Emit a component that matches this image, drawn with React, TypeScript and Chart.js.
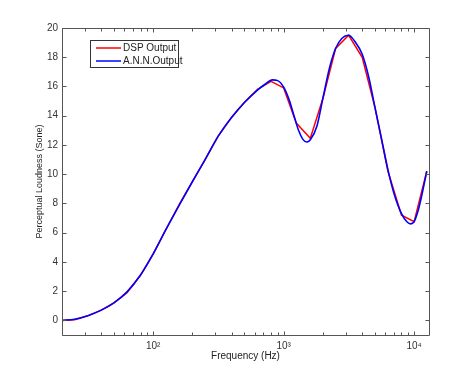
import React, { useEffect, useRef } from "react";
import { Chart, registerables } from "chart.js";

Chart.register(...registerables);

// ANN output (smooth)
const annFreq = [20, 25, 32, 40, 50, 63, 80, 100, 125, 160, 200, 250, 315, 400, 500, 630, 720, 820, 900, 1000, 1100, 1200, 1300, 1400, 1500, 1600, 1800, 2000, 2250, 2500, 2800, 3150, 3500, 4000, 4500, 5000, 5600, 6300, 7000, 8000, 8800, 9400, 10000, 10800, 11600, 12500];
const annValues = [0, 0.08, 0.34, 0.7, 1.2, 1.95, 3.1, 4.55, 6.2, 7.95, 9.5, 11.0, 12.6, 13.9, 14.9, 15.75, 16.15, 16.45, 16.4, 15.95, 15.1, 14.0, 13.0, 12.4, 12.2, 12.35, 13.3, 15.2, 17.3, 18.6, 19.3, 19.5, 19.1, 18.2, 16.6, 14.6, 12.5, 10.3, 8.7, 7.3, 6.75, 6.6, 6.75, 7.6, 8.8, 10.2];

// DSP output (piecewise)
const dspFreq = [20, 25, 32, 40, 50, 63, 80, 100, 125, 160, 200, 250, 315, 400, 500, 630, 800, 1000, 1250, 1600, 2000, 2500, 3150, 4000, 5000, 6300, 8000, 10000, 12500];
const dspValues = [0, 0.05, 0.34, 0.7, 1.2, 1.9, 3.1, 4.55, 6.2, 8.0, 9.5, 11.0, 12.6, 13.9, 14.9, 15.8, 16.35, 15.9, 13.5, 12.45, 15.2, 18.6, 19.5, 18.0, 14.6, 10.2, 7.2, 6.75, 10.2];

const xMajorTicks = [100, 1000, 10000];
const xMinorTicks = [20, 30, 40, 50, 60, 70, 80, 90, 200, 300, 400, 500, 600, 700, 800, 900, 2000, 3000, 4000, 5000, 6000, 7000, 8000, 9000];
const yTicks = [0, 2, 4, 6, 8, 10, 12, 14, 16, 18, 20];
const xTickLabels: Record<number, string> = { 100: "10²", 1000: "10³", 10000: "10⁴" };

const legendLabels = ["DSP Output", "A.N.N.Output"];
const seriesColors = ["#ff0000", "#0000ff"];

const FONT = "'Liberation Sans', Arial, sans-serif";

const framePlugin = {
  id: "frame",
  afterDraw(chart: any) {
    const { ctx, chartArea } = chart;
    const { left, right, top, bottom } = chartArea;
    const xs = chart.scales.x;
    const ys = chart.scales.y;
    ctx.save();
    ctx.strokeStyle = "#555";
    ctx.lineWidth = 1;
    ctx.beginPath();
    const L = Math.round(left) + 0.5, R = Math.round(right) + 0.5, T = Math.round(top) + 0.5, B = Math.round(bottom) + 0.5;
    ctx.rect(L, T, R - L, B - T);
    const drawX = (v: number, len: number) => {
      const px = Math.round(xs.getPixelForValue(v)) + 0.5;
      ctx.moveTo(px, B); ctx.lineTo(px, B - len);
      ctx.moveTo(px, T); ctx.lineTo(px, T + len);
    };
    xMajorTicks.forEach((v) => drawX(v, 4));
    xMinorTicks.forEach((v) => drawX(v, 3));
    yTicks.forEach((v) => {
      const py = Math.round(ys.getPixelForValue(v)) + 0.5;
      ctx.moveTo(L, py); ctx.lineTo(L + 4, py);
      ctx.moveTo(R, py); ctx.lineTo(R - 4, py);
    });
    ctx.stroke();

    // legend
    const bx = 90.5, by = 40.5, bw = 88, bh = 27;
    ctx.fillStyle = "#fff";
    ctx.fillRect(bx, by, bw, bh);
    ctx.strokeStyle = "#333";
    ctx.strokeRect(bx, by, bw, bh);
    ctx.font = `10px ${FONT}`;
    ctx.textBaseline = "middle";
    ctx.textAlign = "left";
    legendLabels.forEach((lab, i) => {
      const yy = 48 + i * 13;
      ctx.strokeStyle = seriesColors[i];
      ctx.lineWidth = 1.5;
      ctx.beginPath();
      ctx.moveTo(96, yy);
      ctx.lineTo(121, yy);
      ctx.stroke();
      ctx.fillStyle = "#222";
      ctx.fillText(lab, 123, yy);
    });
    ctx.restore();
  },
};

export default function App() {
  const ref = useRef<HTMLCanvasElement>(null);
  useEffect(() => {
    document.body.style.margin = "0";
    const chart = new Chart(ref.current!, {
      type: "line",
      data: {
        datasets: [
          {
            label: legendLabels[0],
            data: dspFreq.map((f, i) => ({ x: f, y: dspValues[i] })),
            borderColor: seriesColors[0],
            borderWidth: 1.5,
            pointRadius: 0,
            tension: 0,
            order: 1,
          },
          {
            label: legendLabels[1],
            data: annFreq.map((f, i) => ({ x: f, y: annValues[i] })),
            borderColor: seriesColors[1],
            borderWidth: 1.6,
            pointRadius: 0,
            cubicInterpolationMode: "monotone",
            order: 0,
          },
        ],
      },
      options: {
        animation: false,
        responsive: false,
        maintainAspectRatio: false,
        layout: { padding: { left: 34, top: 28, right: 45, bottom: 15 } },
        plugins: { legend: { display: false }, tooltip: { enabled: false } },
        scales: {
          x: {
            type: "logarithmic",
            min: 20,
            max: 13000,
            grid: { display: false, drawTicks: false, tickLength: 0 },
            border: { display: false },
            afterBuildTicks: (s: any) => {
              s.ticks = [...xMinorTicks, ...xMajorTicks].sort((a, b) => a - b).map((v) => ({ value: v }));
            },
            afterFit: (s: any) => { s.height = 27; },
            ticks: {
              autoSkip: false,
              maxRotation: 0,
              padding: 5,
              color: "#333",
              font: { family: FONT, size: 10 },
              callback: (v: any) => xTickLabels[Number(v)] || "",
            },
            title: {
              display: true,
              text: "Frequency (Hz)",
              color: "#222",
              font: { family: FONT, size: 10 },
              padding: { top: 0, bottom: 0 },
            },
          },
          y: {
            type: "linear",
            min: -1,
            max: 20,
            grid: { display: false, drawTicks: false, tickLength: 0 },
            border: { display: false },
            afterBuildTicks: (s: any) => {
              s.ticks = yTicks.map((v) => ({ value: v }));
            },
            afterFit: (s: any) => { s.width = 28; },
            ticks: {
              autoSkip: false,
              padding: 4,
              color: "#333",
              font: { family: FONT, size: 10 },
            },
            title: {
              display: true,
              text: "Perceptual Loudness (Sone)",
              color: "#222",
              font: { family: FONT, size: 9 },
              padding: { top: 0, bottom: 0 },
            },
          },
        },
      },
      plugins: [framePlugin],
    } as any);
    return () => chart.destroy();
  }, []);
  return (
    <div style={{ position: "absolute", left: 0, top: 0, width: 474, height: 377, background: "#fff" }}>
      <canvas ref={ref} width={474} height={377} style={{ width: 474, height: 377 }} />
    </div>
  );
}
